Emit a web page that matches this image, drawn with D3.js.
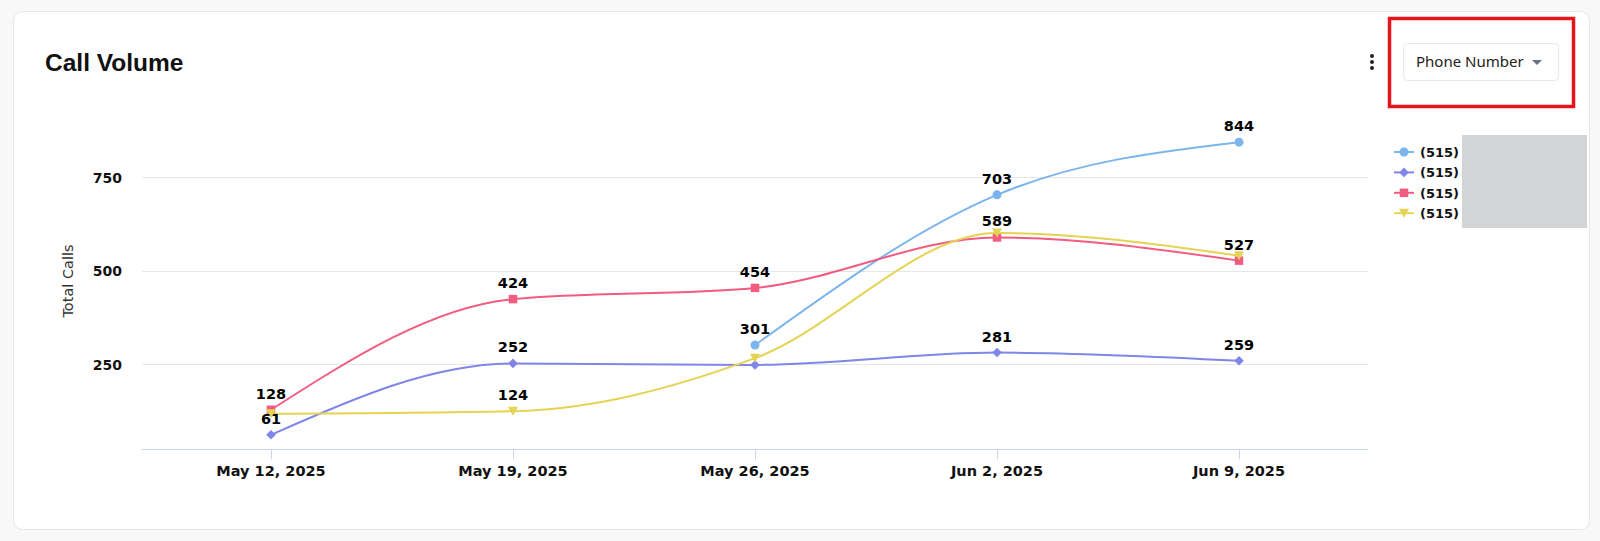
<!DOCTYPE html>
<html>
<head>
<meta charset="utf-8">
<script src="https://cdn.jsdelivr.net/npm/d3@7"></script>
<style>
  html, body { margin: 0; padding: 0; background: #f8f8f8; }
  svg { display: block; }
</style>
</head>
<body>
<div id="chart"></div>
<script>
// chart data
const dates = ["May 12, 2025", "May 19, 2025", "May 26, 2025", "Jun 2, 2025", "Jun 9, 2025"];
const seriesNames = ["(515)", "(515)", "(515)", "(515)"];
const blueVals = [null, null, 301, 703, 844];
const purpleVals = [61, 252, 248, 281, 259];
const redVals = [128, 424, 454, 589, 527];
const yellowVals = [117, 124, 266, 601, 540];
const yTicks = [250, 500, 750];

const colors = ["#7cb5ec", "#8085e9", "#f15c80", "#e4d354"];
const symbols = ["circle", "diamond", "square", "triangle-down"];
const series = [blueVals, purpleVals, redVals, yellowVals].map((vals, i) => ({
  name: seriesNames[i], color: colors[i], symbol: symbols[i],
  points: vals.map((v, j) => ({ date: dates[j], value: v }))
}));

const width = 1600, height = 541;
const svg = d3.select("#chart").append("svg")
  .attr("width", width).attr("height", height);

// card
svg.append("rect")
  .attr("x", 13.5).attr("y", 11.5).attr("width", 1576).attr("height", 518)
  .attr("rx", 9).attr("fill", "#fff").attr("stroke", "#e6e6e6");

svg.append("text")
  .attr("x", 45).attr("y", 71)
  .style("font-family", "'Liberation Sans', Arial, sans-serif")
  .style("font-weight", "bold").style("font-size", "24.5px").attr("fill", "#111")
  .text("Call Volume");

// kebab menu
[56, 62, 68].forEach(cy => svg.append("circle").attr("cx", 1372).attr("cy", cy).attr("r", 2).attr("fill", "#222"));

// dropdown button + red highlight
svg.append("rect").attr("x", 1403.5).attr("y", 43.5).attr("width", 155).attr("height", 37)
  .attr("rx", 4).attr("fill", "#fff").attr("stroke", "#e8e8ea");
svg.append("text").attr("x", 1416).attr("y", 67)
  .style("font-family", "'Noto Sans', 'Open Sans', sans-serif").style("font-size", "15px")
  .attr("fill", "#222").text("Phone Number");
svg.append("path").attr("d", "M1532,60 L1542,60 L1537,65 Z").attr("fill", "#6b7280");
svg.append("rect").attr("x", 1389.5).attr("y", 18.5).attr("width", 184).attr("height", 88)
  .attr("fill", "none").attr("stroke", "#e8141b").attr("stroke-width", 3.5);

// scales
const x = d3.scalePoint().domain(dates).range([142, 1368]).padding(0.533);
const y = d3.scaleLinear().domain([23, 922]).range([449, 113]);
const plotLeft = 142, plotRight = 1368, plotBottom = 449;

const labelFont = "'DejaVu Sans', Verdana, sans-serif";

// grid
svg.append("g").selectAll("line").data(yTicks).join("line")
  .attr("x1", plotLeft).attr("x2", plotRight)
  .attr("y1", d => Math.round(y(d)) + 0.5).attr("y2", d => Math.round(y(d)) + 0.5)
  .attr("stroke", "#e6e6e6");

// y axis labels
svg.append("g").selectAll("text").data(yTicks).join("text")
  .attr("x", 122).attr("y", d => y(d) + 5.5)
  .attr("text-anchor", "end")
  .style("font-family", labelFont).style("font-weight", "bold").style("font-size", "14px")
  .attr("fill", "#111").text(d => d);

svg.append("text")
  .attr("transform", `translate(73, 281) rotate(-90)`)
  .attr("text-anchor", "middle")
  .style("font-family", labelFont).style("font-size", "14.5px")
  .attr("fill", "#333").text("Total Calls");

// x axis
const xAxis = svg.append("g").attr("transform", `translate(0, ${plotBottom + 0.5})`);
xAxis.append("line").attr("x1", plotLeft).attr("x2", plotRight).attr("stroke", "#ccd6eb");
xAxis.selectAll("line.tick").data(dates).join("line").attr("class", "tick")
  .attr("x1", d => Math.round(x(d)) + 0.5).attr("x2", d => Math.round(x(d)) + 0.5)
  .attr("y1", 0).attr("y2", 10).attr("stroke", "#ccd6eb");
xAxis.selectAll("text").data(dates).join("text")
  .attr("x", d => x(d)).attr("y", 26.5)
  .attr("text-anchor", "middle")
  .style("font-family", labelFont).style("font-weight", "bold").style("font-size", "14.5px")
  .attr("fill", "#111").text(d => d);

// marker shapes
function marker(sym) {
  if (sym === "circle") return d3.symbol(d3.symbolCircle, 64)();
  if (sym === "square") return d3.symbol(d3.symbolSquare, 72)();
  if (sym === "diamond") return "M0,-4.8L4.8,0L0,4.8L-4.8,0Z";
  return "M-5,-4.5L5,-4.5L0,4.5Z";
}

const line = d3.line()
  .defined(d => d.value != null)
  .x(d => x(d.date)).y(d => y(d.value))
  .curve(d3.curveMonotoneX);

series.forEach(s => {
  const g = svg.append("g");
  g.append("path").datum(s.points).attr("d", line)
    .attr("fill", "none").attr("stroke", s.color).attr("stroke-width", 2);
  g.selectAll("path.m").data(s.points.filter(p => p.value != null)).join("path")
    .attr("class", "m")
    .attr("transform", p => `translate(${x(p.date)},${y(p.value)})`)
    .attr("d", marker(s.symbol)).attr("fill", s.color);
});

// data labels, hiding the ones that collide with an earlier label
const shown = [];
series.forEach(s => {
  s.points.forEach(p => {
    if (p.value == null) return;
    const lx = x(p.date), ly = y(p.value) - 11;
    const w = String(p.value).length * 10;
    const hit = shown.some(o => Math.abs(o.x - lx) < (o.w + w) / 2 && Math.abs(o.y - ly) < 22);
    if (!hit) shown.push({ x: lx, y: ly, w, text: p.value });
  });
});
svg.append("g").selectAll("text").data(shown).join("text")
  .attr("x", d => d.x).attr("y", d => d.y)
  .attr("text-anchor", "middle")
  .style("font-family", labelFont).style("font-weight", "bold").style("font-size", "14.5px")
  .attr("fill", "#000").text(d => d.text);

// legend
const legend = svg.append("g").attr("transform", "translate(1394, 152)");
const rows = legend.selectAll("g").data(series).join("g")
  .attr("transform", (d, i) => `translate(0, ${i * 20.4})`);
rows.append("line").attr("x1", 0).attr("x2", 20).attr("stroke", d => d.color).attr("stroke-width", 2);
rows.append("path").attr("transform", "translate(10,0)").attr("d", d => marker(d.symbol)).attr("fill", d => d.color);
rows.append("text").attr("x", 26).attr("y", 5)
  .style("font-family", labelFont).style("font-weight", "bold").style("font-size", "13px")
  .attr("fill", "#111").text(d => d.name);
svg.append("rect").attr("x", 1462).attr("y", 135).attr("width", 125).attr("height", 93).attr("fill", "#d3d4d6");
</script>
</body>
</html>
